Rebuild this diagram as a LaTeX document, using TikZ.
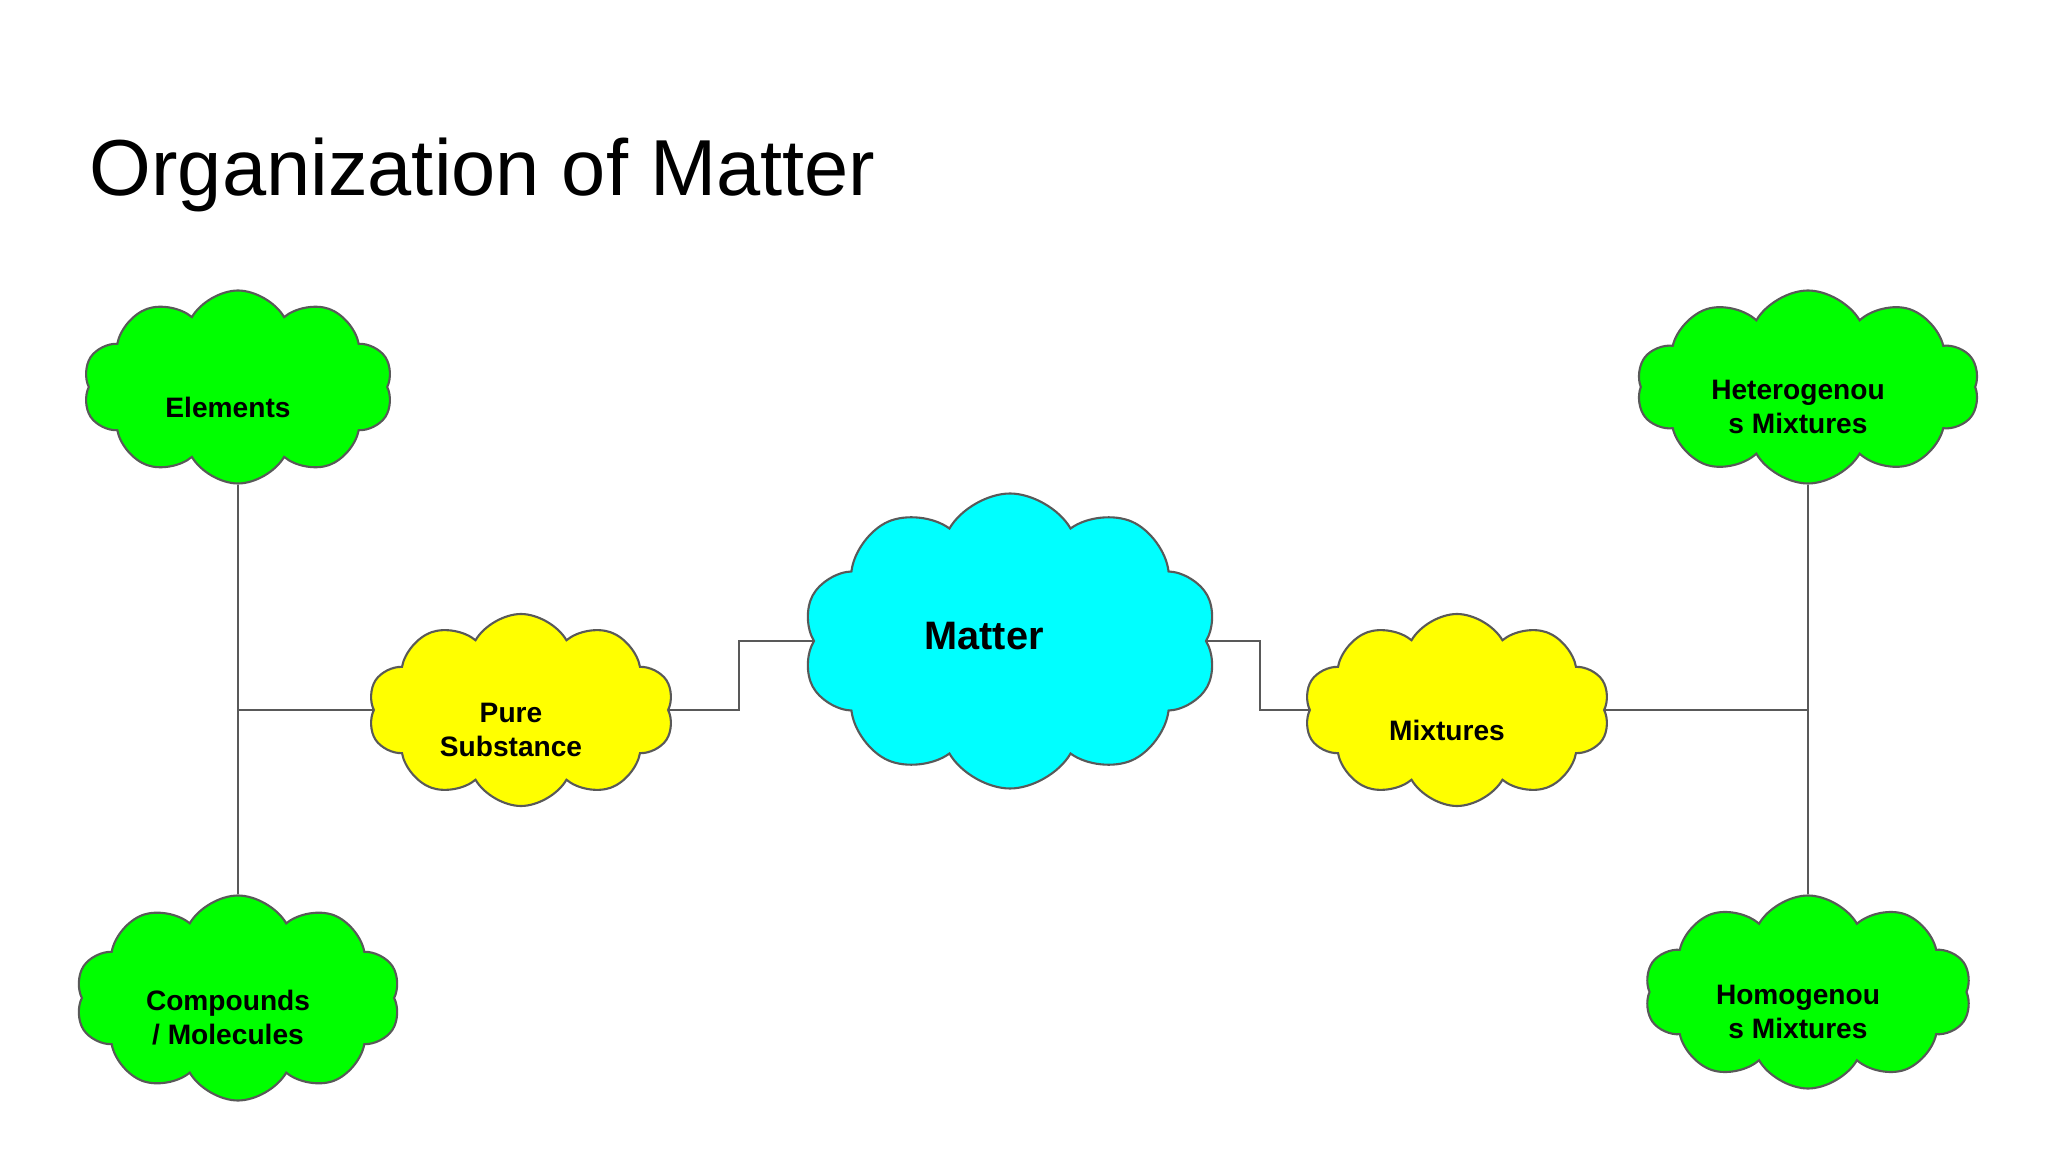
\documentclass[tikz,border=0pt]{standalone}
\usepackage{fontspec}
\setmainfont{Liberation Sans}
\usepackage{tikz}
\usetikzlibrary{shapes.symbols}
\definecolor{leafgreen}{RGB}{0,255,0}
\definecolor{midyellow}{RGB}{255,255,0}
\definecolor{rootcyan}{RGB}{0,255,255}
\definecolor{edgegray}{RGB}{89,89,89}

\begin{document}
\begin{tikzpicture}[
  puff/.style={cloud,cloud puffs=10,cloud puff arc=120,draw=edgegray,line width=0.6pt,
               inner sep=0pt},
  lbl/.style={align=center,inner sep=0pt,font=\fontsize{8}{9.7}\selectfont\bfseries,
              xshift=-1mm,yshift=-2mm},
  leaf/.style={puff,fill=leafgreen,minimum width=3.1cm,minimum height=1.93cm},
  mid/.style={puff,fill=midyellow,minimum width=3.06cm,minimum height=1.92cm},
  root/.style={puff,fill=rootcyan,minimum width=4.15cm,minimum height=2.95cm},
  conn/.style={draw=edgegray,line width=0.5pt}
]
\useasboundingbox (0,0) rectangle (20.48,-11.52);
% ---- title ----
\node[font=\fontsize{22.6}{27}\selectfont,anchor=base west,inner sep=0pt] (title)
  at (0.89,-1.96) {Organization of Matter};

% ---- clouds ----
\node[root,label={[lbl,font=\fontsize{11.3}{13}\selectfont\bfseries,xshift=-1.6mm,
  yshift=2.5mm]center:Matter}] (matter) at (10.10,-6.41) {};
\node[mid,label={[lbl]center:{Pure\\Substance}}] (pure) at (5.21,-7.10) {};
\node[mid,label={[lbl]center:Mixtures}] (mix) at (14.57,-7.10) {};
\node[leaf,label={[lbl]center:Elements}] (elem) at (2.38,-3.87) {};
\node[leaf,minimum width=3.25cm,minimum height=2.05cm,
  label={[lbl]center:{Compounds\\/ Molecules}}] (comp) at (2.38,-9.98) {};
\node[leaf,minimum width=3.43cm,
  label={[lbl]center:{Heterogenou\\s Mixtures}}] (het) at (18.08,-3.87) {};
\node[leaf,minimum width=3.27cm,
  label={[lbl]center:{Homogenou\\s Mixtures}}] (hom) at (18.08,-9.92) {};

% ---- connectors ----
\coordinate (ljoin) at (2.38,-7.10);
\coordinate (rjoin) at (18.08,-7.10);
\draw[conn] (elem.south) -- (comp.north);
\draw[conn] (ljoin) -- (pure.west);
\draw[conn] (pure.east) -- ++(0.70,0) |- (matter.west);
\draw[conn] (matter.east) -- ++(0.53,0) |- (mix.west);
\draw[conn] (mix.east) -- (rjoin);
\draw[conn] (het.south) -- (hom.north);
\end{tikzpicture}
\end{document}
